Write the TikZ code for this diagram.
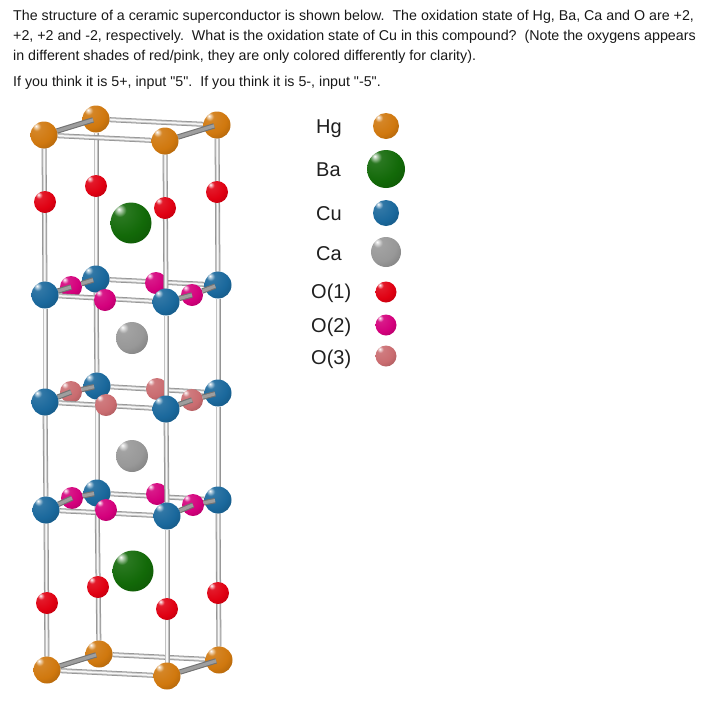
\documentclass[tikz,border=0pt]{standalone}
\usepackage{fontspec}
\newfontfamily\plainsans{Liberation Sans}
\usepackage{tikz}

%% sphere colours
\definecolor{hgcol}{RGB}{208,120,14}
\definecolor{bacol}{RGB}{18,105,8}
\definecolor{cucol}{RGB}{26,104,156}
\definecolor{cacol}{RGB}{152,152,152}
\definecolor{oonecol}{RGB}{224,0,18}
\definecolor{otwocol}{RGB}{212,0,124}
\definecolor{othreecol}{RGB}{202,108,112}

%% sphere shadings, small highlight up left and dark rim below
\newcommand{\atomshading}[2]{%
	\pgfdeclareradialshading{#1}{\pgfpoint{-15bp}{17bp}}{%
		color(0bp)=(white);
		color(3bp)=(#2!35!white);
		color(8bp)=(#2!90!white);
		color(28bp)=(#2);
		color(44bp)=(#2!82!black);
		color(56bp)=(#2!55!black);
		color(66bp)=(#2!30!black);
		color(100bp)=(#2!20!black)}}
\atomshading{hgball}{hgcol}
\atomshading{baball}{bacol}
\atomshading{cuball}{cucol}
\atomshading{caball}{cacol}
\atomshading{ooneball}{oonecol}
\atomshading{otwoball}{otwocol}
\atomshading{othreeball}{othreecol}

\tikzset{
	atom/.style={circle,inner sep=0pt,outer sep=0pt},
	hg/.style={atom,shading=hgball,minimum size=27pt},
	ba/.style={atom,shading=baball,minimum size=41pt},
	cu/.style={atom,shading=cuball,minimum size=27pt},
	ca/.style={atom,shading=caball,minimum size=32pt},
	oone/.style={atom,shading=ooneball,minimum size=22pt},
	otwo/.style={atom,shading=otwoball,minimum size=22pt},
	othree/.style={atom,shading=othreeball,minimum size=22pt},
	keyba/.style={ba,minimum size=38pt},
	keyca/.style={ca,minimum size=30pt},
	keyo/.style={minimum size=21pt},
	bond/.style={line width=5pt,draw=black!42,postaction={draw=black!24,line width=3.4pt},postaction={draw=black!3,line width=1.5pt}},
	sidebond/.style={line width=5.4pt,draw=black!55,postaction={draw=black!38,line width=3.2pt}},
	question/.style={anchor=base west,inner sep=0pt,font=\plainsans\fontsize{14.25}{16}\selectfont,text=black!90},
	keylabel/.style={anchor=base west,inner sep=0pt,font=\plainsans\fontsize{20}{24}\selectfont,text=black!88}
}

\pgfdeclarelayer{backbonds}
\pgfdeclarelayer{backatoms}
\pgfdeclarelayer{sideatoms}
\pgfdeclarelayer{sidebonds}
\pgfdeclarelayer{frontbonds}
\pgfsetlayers{backbonds,backatoms,sideatoms,sidebonds,frontbonds,main}

\begin{document}
\begin{tikzpicture}[x=1pt,y=-1pt]
		\useasboundingbox (0,0) rectangle (716,721);

		%%Question
		\node[question] (lineone) at (13,20) {The structure of a ceramic superconductor is shown below.\ \ The oxidation state of Hg, Ba, Ca and O are +2,};
		\node[question] (linetwo) at (13,40) {+2, +2 and -2, respectively.\ \ What is the oxidation state of Cu in this compound?\ \ (Note the oxygens appears};
		\node[question] (linethree) at (13,60) {in different shades of red/pink, they are only colored differently for clarity).};
		\node[question] (linefour) at (13,86) {If you think it is 5+, input "5".\ \ If you think it is 5-, input "-5".};

		%%Back atoms
		\begin{pgfonlayer}{backatoms}
		\node[hg] (hgbl) at (96,119) {};
		\node[hg] (hgbr) at (217,125) {};
		\node[oone] (oonebl) at (96,186) {};
		\node[oone] (oonebr) at (217,192) {};
		\node[cu] (cubla) at (96,279) {};
		\node[cu] (cubra) at (218,285) {};
		\node[otwo] (otwoba) at (156,283) {};
		\node[cu] (cublb) at (97,386) {};
		\node[cu] (cubrb) at (218,393) {};
		\node[othree] (othreeb) at (157,389) {};
		\node[cu] (cublc) at (97,493) {};
		\node[cu] (cubrc) at (218,500) {};
		\node[otwo] (otwobc) at (157,494) {};
		\node[oone] (ooneblb) at (98,587) {};
		\node[oone] (oonebrb) at (218,593) {};
		\node[hg] (hgblb) at (99,654) {};
		\node[hg] (hgbrb) at (219,660) {};
		\end{pgfonlayer}

		%%Atoms on the side edges
		\begin{pgfonlayer}{sideatoms}
		\node[otwo] (otwola) at (71,287) {};
		\node[otwo] (otwora) at (192,295) {};
		\node[othree] (othreel) at (71,392) {};
		\node[othree] (othreer) at (192,400) {};
		\node[otwo] (otwolc) at (72,498) {};
		\node[otwo] (otworc) at (193,505) {};
		\end{pgfonlayer}

		%%Atoms in the middle
		\node[ba] (batop) at (131,223) {};
		\node[ca] (catop) at (132,338) {};
		\node[ca] (cabot) at (132,456) {};
		\node[ba] (babot) at (133,571) {};

		%%Front atoms
		\node[otwo] (otwofa) at (105,300) {};
		\node[othree] (othreef) at (106,405) {};
		\node[otwo] (otwofc) at (106,510) {};
		\node[oone] (oonefl) at (45,202) {};
		\node[oone] (oonefr) at (165,208) {};
		\node[oone] (ooneflb) at (47,603) {};
		\node[oone] (oonefrb) at (167,609) {};
		\node[hg] (hgfl) at (44,135) {};
		\node[hg] (hgfr) at (165,141) {};
		\node[cu] (cufla) at (45,295) {};
		\node[cu] (cufra) at (166,302) {};
		\node[cu] (cuflb) at (45,402) {};
		\node[cu] (cufrb) at (166,409) {};
		\node[cu] (cuflc) at (46,510) {};
		\node[cu] (cufrc) at (167,516) {};
		\node[hg] (hgflb) at (47,670) {};
		\node[hg] (hgfrb) at (167,676) {};

		%%Back bonds
		\begin{pgfonlayer}{backbonds}
		\draw[bond] (hgbl) -- (hgbr);
		\draw[bond] (cubla) -- (cubra);
		\draw[bond] (cublb) -- (cubrb);
		\draw[bond] (cublc) -- (cubrc);
		\draw[bond] (hgblb) -- (hgbrb);
		\draw[bond] (hgbl) -- (cubla);
		\draw[bond] (cubla) -- (cublb);
		\draw[bond] (cublb) -- (cublc);
		\draw[bond] (cublc) -- (hgblb);
		\draw[bond] (hgbr) -- (cubra);
		\draw[bond] (cubra) -- (cubrb);
		\draw[bond] (cubrb) -- (cubrc);
		\draw[bond] (cubrc) -- (hgbrb);
		\end{pgfonlayer}

		%%Side bonds
		\begin{pgfonlayer}{sidebonds}
		\draw[sidebond,shorten >=3pt] (hgfl) -- (hgbl.center);
		\draw[sidebond,shorten >=3pt] (hgfr) -- (hgbr.center);
		\draw[sidebond,shorten >=3pt] (hgflb) -- (hgblb.center);
		\draw[sidebond,shorten >=3pt] (hgfrb) -- (hgbrb.center);
		\draw[sidebond] (cufla) -- (otwola.center);
		\draw[sidebond,shorten <=3pt] (cubla.center) -- (otwola);
		\draw[sidebond] (cufra) -- (otwora.center);
		\draw[sidebond,shorten <=3pt] (cubra.center) -- (otwora);
		\draw[sidebond] (cuflb) -- (othreel.center);
		\draw[sidebond,shorten <=3pt] (cublb.center) -- (othreel);
		\draw[sidebond] (cufrb) -- (othreer.center);
		\draw[sidebond,shorten <=3pt] (cubrb.center) -- (othreer);
		\draw[sidebond] (cuflc) -- (otwolc.center);
		\draw[sidebond,shorten <=3pt] (cublc.center) -- (otwolc);
		\draw[sidebond] (cufrc) -- (otworc.center);
		\draw[sidebond,shorten <=3pt] (cubrc.center) -- (otworc);
		\end{pgfonlayer}

		%%Front bonds
		\begin{pgfonlayer}{frontbonds}
		\draw[bond] (hgfl) -- (hgfr);
		\draw[bond] (cufla) -- (cufra);
		\draw[bond] (cuflb) -- (cufrb);
		\draw[bond] (cuflc) -- (cufrc);
		\draw[bond] (hgflb) -- (hgfrb);
		\draw[bond] (hgfl) -- (cufla);
		\draw[bond] (cufla) -- (cuflb);
		\draw[bond] (cuflb) -- (cuflc);
		\draw[bond] (cuflc) -- (hgflb);
		\draw[bond] (hgfr) -- (cufra);
		\draw[bond] (cufra) -- (cufrb);
		\draw[bond] (cufrb) -- (cufrc);
		\draw[bond] (cufrc) -- (hgfrb);
		\end{pgfonlayer}

		%%Legend
		\node[keylabel] (keyhg) at (316,133) {Hg};
		\node[keylabel] (keyba) at (316,176) {Ba};
		\node[keylabel] (keycu) at (316,220) {Cu};
		\node[keylabel] (keyca) at (316,260) {Ca};
		\node[keylabel] (keyoone) at (311,298) {O(1)};
		\node[keylabel] (keyotwo) at (311,332) {O(2)};
		\node[keylabel] (keyothree) at (311,364) {O(3)};
		\node[hg,minimum size=26pt] (ballhg) at (386,126) {};
		\node[keyba] (ballba) at (386,169) {};
		\node[cu,minimum size=26pt] (ballcu) at (386,213) {};
		\node[keyca] (ballca) at (386,252) {};
		\node[oone,keyo] (balloone) at (386,292) {};
		\node[otwo,keyo] (ballotwo) at (386,325) {};
		\node[othree,keyo] (ballothree) at (386,356) {};
\end{tikzpicture}
\end{document}
